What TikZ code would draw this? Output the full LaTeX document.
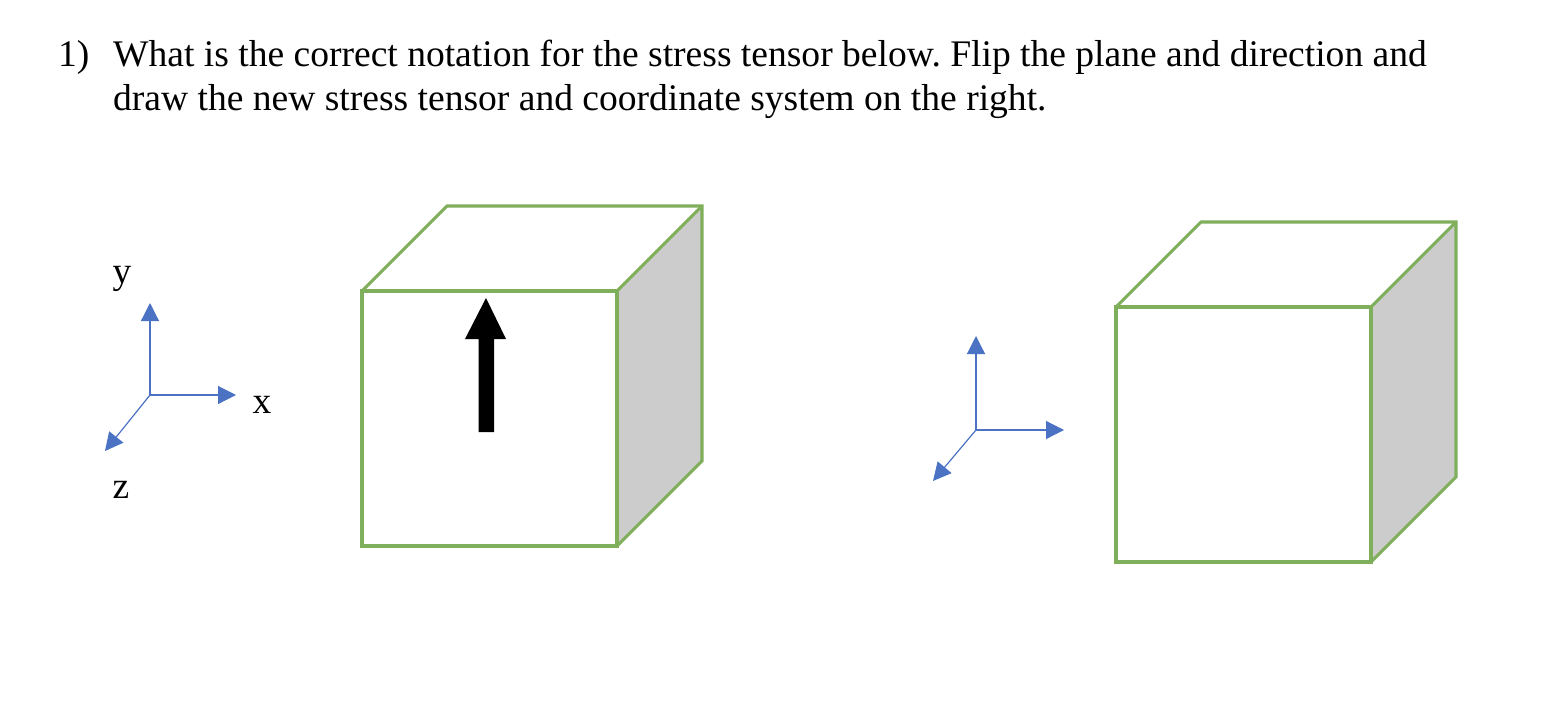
\documentclass[tikz,border=0pt]{standalone}
\usepackage{fontspec}
\setmainfont{Liberation Serif}
\usetikzlibrary{arrows.meta}
\definecolor{cubegreen}{HTML}{7FAF5A}
\definecolor{axisblue}{HTML}{4C72C4}
\definecolor{sidegrey}{HTML}{CCCCCC}
\tikzset{x=1pt,y=-1pt,
  cubeline/.style={draw=cubegreen,line width=3.05pt,line join=miter},
  axisline/.style={draw=axisblue,line width=1.2pt,-{Triangle[length=18pt,width=18pt,fill=axisblue]}},
  txt/.style={inner sep=0pt,anchor=base west,font=\fontsize{37.55pt}{37.55pt}\selectfont\frenchspacing},
  lbl/.style={inner sep=0pt,anchor=base,font=\fontsize{37.5pt}{37.5pt}\selectfont}}
\begin{document}
\begin{tikzpicture}
\useasboundingbox (0,0) rectangle (1566,728);
\node[txt] (n) at (58,66) {1)};
\node[txt] (l1) at (113,66) {What is the correct notation for the stress tensor below. Flip the plane and direction and};
\node[txt] (l2) at (113,110) {draw the new stress tensor and coordinate system on the right.};
% left cube
\fill[sidegrey] (617,291) -- (702,206) -- (702,461) -- (617,546) -- cycle;
\draw[cubeline] (362,291) rectangle (617,546);
\draw[cubeline] (362,291) -- (447,206) -- (702,206) -- (702,461) -- (617,546);
\draw[cubeline] (617,291) -- (702,206);
\fill[black] (478.5,432) -- (494,432) -- (494,339) -- (506,339) -- (486,298) -- (465,339) -- (478.5,339) -- cycle;
% right cube
\fill[sidegrey] (1371,307) -- (1456,222) -- (1456,477) -- (1371,562) -- cycle;
\draw[cubeline] (1116,307) rectangle (1371,562);
\draw[cubeline] (1116,307) -- (1201,222) -- (1456,222) -- (1456,477) -- (1371,562);
\draw[cubeline] (1371,307) -- (1456,222);
% left axes
\coordinate (o1) at (150,395);
\coordinate (y1) at (150,303);
\coordinate (x1) at (236,395);
\coordinate (z1) at (105,451);
\draw[axisline] (o1) -- (y1);
\draw[axisline] (o1) -- (x1);
\draw[axisline] (o1) -- (z1);
\node[lbl] (ly) at (122,283) {y};
\node[lbl] (lx) at (262,413) {x};
\node[lbl] (lz) at (121,498.5) {z};
% right axes
\coordinate (o2) at (976,430);
\coordinate (y2) at (976,336);
\coordinate (x2) at (1064,430);
\coordinate (z2) at (933,481);
\draw[axisline] (o2) -- (y2);
\draw[axisline] (o2) -- (x2);
\draw[axisline] (o2) -- (z2);
\end{tikzpicture}
\end{document}
